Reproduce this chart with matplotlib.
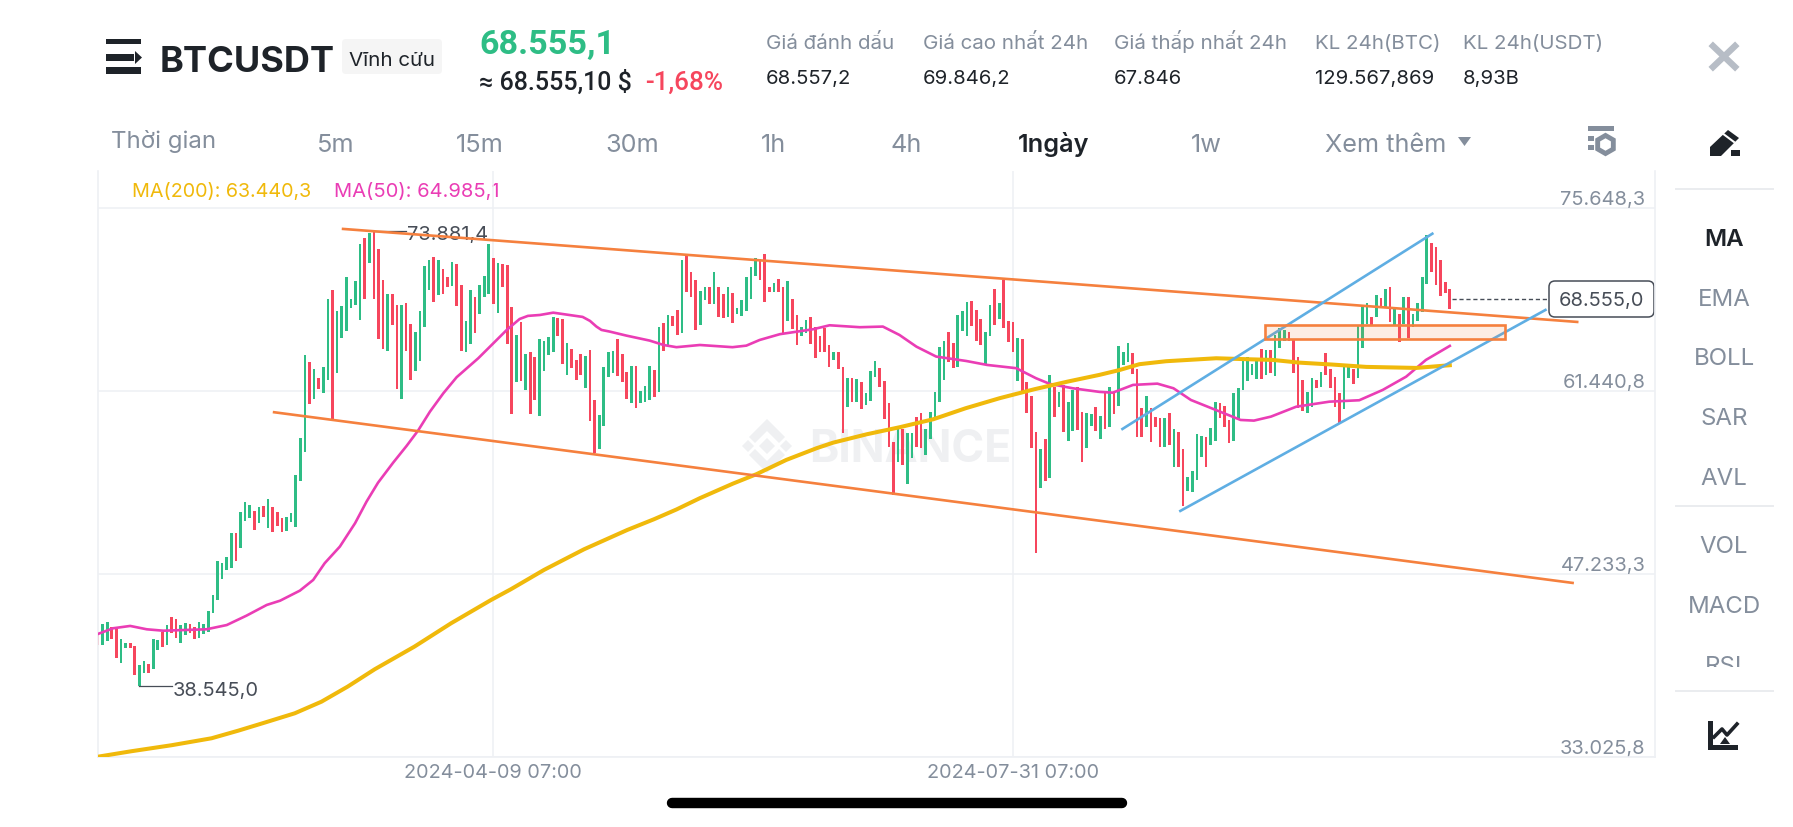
import numpy as np
import matplotlib
matplotlib.use("Agg")
from matplotlib import pyplot as plt
from matplotlib.patches import FancyBboxPatch, Polygon, Rectangle

plt.rcParams['font.family'] = ['Inter', 'Noto Sans', 'DejaVu Sans']

# daily candles, thousands of USDT
opens = [
    42.63, 41.72, 42.06, 43.15, 42.94, 40.30, 41.47, 41.85, 41.67, 38.54,
    39.53, 40.25, 39.84, 41.34, 42.76, 41.75, 43.87, 43.72, 41.85, 42.50,
    43.35, 43.10, 42.24, 42.58, 42.76, 44.23, 45.22, 46.82, 47.55, 47.68,
    50.39, 49.23, 51.35, 51.56, 52.13, 51.17, 52.52, 50.78, 52.41, 52.08,
    51.56, 50.60, 51.30, 50.91, 54.46, 56.73, 63.72, 60.82, 62.48, 61.31,
    62.30, 69.28, 62.82, 65.58, 66.08, 67.89, 68.15, 66.98, 73.30, 71.35,
    73.88, 72.44, 70.03, 64.52, 68.97, 68.12, 60.80, 68.25, 66.64, 63.00,
    63.80, 66.39, 69.28, 71.82, 68.92, 70.91, 70.32, 69.59, 71.30, 69.67,
    64.45, 65.09, 68.77, 67.42, 68.77, 68.97, 71.77, 67.52, 71.30, 71.25,
    67.94, 62.12, 66.80, 61.52, 64.45, 64.06, 59.53, 63.02, 64.21, 64.47,
    67.08, 67.03, 62.71, 64.73, 63.85, 64.29, 61.67, 64.62, 60.74, 56.91,
    58.75, 62.50, 62.81, 65.45, 64.31, 62.94, 60.48, 63.38, 60.48, 60.59,
    60.74, 63.07, 61.34, 66.75, 65.01, 67.26, 67.70, 65.97, 71.95, 70.65,
    70.06, 66.57, 68.51, 69.54, 68.20, 69.54, 68.95, 67.16, 69.02, 67.42,
    67.26, 67.65, 68.56, 70.37, 71.66, 72.08, 69.54, 69.13, 70.14, 69.54,
    66.90, 68.56, 67.34, 65.71, 65.92, 67.21, 66.44, 65.71, 66.31, 65.01,
    63.85, 64.44, 63.30, 60.23, 62.42, 60.61, 62.17, 60.35, 60.69, 62.50,
    63.25, 62.24, 60.48, 57.48, 55.96, 58.47, 54.22, 56.21, 59.40, 59.71,
    56.47, 57.69, 59.19, 60.59, 62.30, 66.05, 65.14, 63.28, 66.10, 65.71,
    68.43, 67.73, 67.03, 63.51, 65.71, 69.33, 67.00, 70.06, 66.90, 66.77,
    62.24, 65.50, 62.11, 61.05, 58.23, 53.89, 57.69, 54.66, 61.73, 60.17,
    61.91, 57.59, 58.37, 61.78, 59.79, 57.05, 58.75, 60.18, 57.72, 61.26,
    58.68, 61.39, 60.31, 63.46, 63.72, 64.37, 63.13, 60.15, 58.62, 60.10,
    59.40, 59.37, 57.07, 59.71, 55.52, 58.29, 56.94, 53.71, 53.63, 54.54,
    56.35, 57.90, 57.25, 57.59, 60.51, 60.31, 59.19, 57.59, 59.27, 61.52,
    62.25, 62.69, 62.35, 64.68, 62.69, 64.63, 62.61, 64.76, 65.35, 66.05,
    65.46, 64.06, 62.30, 59.76, 60.23, 62.30, 61.78, 64.42, 63.15, 62.50,
    61.26, 60.05, 62.48, 63.15, 62.43, 64.76, 66.65, 67.22, 67.16, 68.64,
    67.86, 69.49, 66.57, 67.40, 66.62, 68.72, 66.39, 66.91, 67.60, 69.72,
    72.91, 72.65, 71.61, 69.88, 69.34,
]
closes = [
    41.72, 43.35, 43.54, 42.19, 40.69, 42.16, 41.85, 41.52, 39.40, 40.15,
    40.51, 39.53, 42.19, 42.11, 41.60, 43.28, 42.63, 42.24, 43.28, 43.46,
    42.63, 42.16, 43.54, 43.33, 44.34, 45.58, 48.22, 48.12, 48.53, 50.39,
    48.27, 52.08, 52.80, 52.59, 50.65, 52.41, 51.69, 53.03, 50.52, 50.96,
    50.50, 51.69, 52.00, 54.92, 57.80, 64.24, 60.43, 63.15, 61.60, 63.28,
    68.56, 59.19, 67.65, 68.04, 70.27, 68.56, 69.96, 72.83, 68.56, 73.68,
    68.56, 65.51, 64.70, 68.97, 66.57, 61.57, 68.09, 64.52, 62.27, 66.00,
    67.65, 71.17, 71.61, 68.33, 71.61, 68.97, 69.54, 71.43, 68.07, 64.57,
    66.90, 69.28, 65.92, 69.65, 70.35, 72.86, 68.17, 71.35, 69.54, 65.09,
    59.63, 65.79, 62.25, 64.32, 59.63, 60.74, 65.45, 65.35, 65.66, 67.16,
    65.71, 63.57, 65.19, 63.25, 62.30, 62.66, 64.16, 59.14, 56.60, 59.58,
    63.28, 64.49, 64.57, 62.61, 62.17, 60.79, 63.38, 60.10, 61.44, 61.80,
    63.38, 60.95, 66.38, 64.55, 67.34, 66.49, 65.79, 71.61, 69.13, 68.71,
    66.18, 69.20, 69.54, 68.20, 70.68, 67.21, 67.08, 69.49, 66.69, 67.86,
    68.51, 70.32, 71.09, 71.74, 70.06, 68.38, 69.15, 69.80, 69.15, 65.97,
    69.98, 66.23, 65.01, 66.44, 66.95, 65.06, 63.98, 64.49, 64.49, 63.33,
    64.49, 63.12, 58.21, 62.42, 60.61, 62.37, 60.02, 61.26, 63.02, 63.80,
    61.78, 59.24, 57.12, 53.37, 58.47, 55.67, 58.21, 58.21, 57.07, 56.99,
    58.47, 59.79, 61.39, 64.83, 65.35, 63.72, 63.20, 67.32, 67.65, 68.32,
    66.51, 65.35, 65.01, 66.05, 68.12, 66.57, 68.25, 66.36, 65.22, 64.44,
    65.58, 61.34, 59.76, 57.04, 48.89, 56.94, 54.48, 62.68, 59.45, 61.39,
    58.24, 60.62, 61.52, 58.42, 55.96, 59.71, 59.63, 58.37, 59.53, 58.50,
    61.73, 59.63, 64.94, 64.45, 65.15, 62.74, 57.90, 57.85, 61.08, 57.51,
    58.68, 57.12, 59.37, 57.25, 58.47, 55.57, 52.52, 54.79, 55.26, 58.11,
    57.98, 55.52, 58.55, 60.57, 59.32, 58.62, 57.43, 61.26, 61.70, 63.98,
    64.11, 63.54, 63.80, 62.35, 64.63, 62.87, 65.79, 66.31, 66.18, 65.35,
    62.82, 60.10, 59.92, 61.39, 62.43, 61.65, 62.89, 62.69, 61.65, 60.23,
    58.94, 63.33, 63.28, 61.99, 66.52, 67.94, 68.30, 66.57, 68.90, 67.94,
    69.36, 66.83, 67.78, 65.22, 68.77, 65.53, 67.42, 68.25, 70.27, 73.56,
    70.71, 69.67, 68.82, 69.03, 67.81,
]

ma200_days = [0, 7.2, 16, 24.7, 30.5, 36.2, 42.8, 48.6, 54.3, 60.2, 68.8, 76.8, 85.5, 89.8,
              97, 105.7, 115.1, 120.9, 125.8, 130.9, 138.1, 143.2, 149.7, 156.3, 159.9,
              167.2, 174.4, 181.7, 188.7, 196.1, 203.7, 210.9, 217.8, 222.2, 226.5, 232.3,
              243.2, 250.5, 255.5, 261.3, 268.5, 275.8, 286.7, 294]
ma200 = [33.05, 33.47, 33.94, 34.48, 35.07, 35.69, 36.42, 37.32, 38.49, 39.84, 41.59, 43.41,
         45.22, 46.05, 47.55, 49.15, 50.65, 51.48, 52.24, 53.12, 54.25, 54.98, 56.09, 57.00,
         57.43, 58.08, 58.63, 59.25, 60.10, 60.88, 61.58, 62.17, 62.69, 63.07, 63.52, 63.75,
         63.98, 63.90, 63.85, 63.64, 63.49, 63.31, 63.23, 63.44]

ma50_days = [0, 3.3, 7, 10.6, 14.2, 23.6, 28, 32.3, 36.7, 39.6, 43.9, 46.8, 49.3, 52.6, 55.9,
             58.4, 60.9, 64.2, 67.1, 69.6, 72.2, 75.1, 78, 82.7, 86, 88.9, 91.7, 93.5, 96.1,
             99, 105.4, 107, 108.4, 109.5, 111.3, 114.9, 120, 123, 125.8, 130.9, 138, 141,
             143.9, 148.3, 155.5, 159.1, 165.7, 170.7, 174.3, 178, 182.3, 188.8, 193.4,
             199.7, 204, 207, 212, 217.8, 220.7, 225.1, 230.4, 233.9, 237.7, 243.5, 248.5,
             251.4, 255.1, 260.6, 267.8, 274.3, 279.4, 284.5, 288.8, 294]
ma50 = [42.58, 43.02, 43.20, 42.94, 42.83, 42.94, 43.27, 44.00, 44.83, 45.16, 45.94, 46.77,
        48.07, 49.36, 51.17, 52.85, 54.32, 55.88, 57.17, 58.36, 59.84, 61.26, 62.51, 63.98,
        65.15, 66.18, 67.03, 67.27, 67.34, 67.52, 67.19, 66.88, 66.44, 66.18, 66.05, 65.74,
        65.35, 65.01, 64.84, 65.01, 64.84, 64.96, 65.40, 65.85, 66.23, 66.54, 66.39, 66.44,
        65.79, 64.88, 64.11, 63.77, 63.46, 63.21, 62.43, 61.99, 61.65, 61.37, 61.31, 61.91,
        62.01, 61.65, 60.74, 59.91, 59.19, 59.14, 59.45, 60.22, 60.61, 60.72, 61.52, 62.55,
        63.85, 64.94]

# drawn trend lines: day positions and prices at both ends
top_line = ([53.3, 321.7], [74.02, 66.80])
low_line = ([38.3, 320.7], [59.79, 46.54])
channel_up = ([222.8, 290.2], [58.49, 73.65])
channel_low = ([235.4, 314.8], [52.13, 67.73])
zone_days = [253.7, 306.1]
zone_prices = [65.50, 66.54]

price_ticks = [75.6483, 61.4408, 47.2333, 33.0258]
price_labels = ['75.648,3', '61.440,8', '47.233,3', '33.025,8']
date_ticks = [86, 199]
date_labels = ['2024-04-09 07:00', '2024-07-31 07:00']

stat_names = ['Giá đánh dấu', 'Giá cao nhất 24h', 'Giá thấp nhất 24h', 'KL 24h(BTC)', 'KL 24h(USDT)']
stat_values = ['68.557,2', '69.846,2', '67.846', '129.567,869', '8,93B']
tabs = ['5m', '15m', '30m', '1h', '4h', '1ngày', '1w']
side_items = ['MA', 'EMA', 'BOLL', 'SAR', 'AVL', 'VOL', 'MACD', 'RSI']

GREEN = '#2EBD85'
RED = '#F6465D'
ORANGE = '#F5803E'
BLUE = '#5FAEE3'
GOLD = '#F0B90B'
PINK = '#EA3DB5'
DARK = '#1E2329'
GREY = '#848E9C'
GRID = '#EEF0F4'

W, H = 1793, 828
fig = plt.figure(figsize=(W / 100, H / 100), dpi=100, facecolor='white')

# page furniture in pixel coordinates
ui = fig.add_axes([0, 0, 1, 1], zorder=0)
ui.set_xlim(0, W)
ui.set_ylim(H, 0)
ui.axis('off')

for y0, y1, x1 in [(40, 45, 141), (55, 62, 134), (68, 75, 141)]:
    ui.add_patch(Rectangle((106, y0), x1 - 106, y1 - y0, color=DARK, lw=0))
ui.add_patch(Polygon([(135, 52), (142, 58.5), (135, 65)], color=DARK, lw=0))
ui.text(160, 72, 'BTCUSDT', fontsize=26, fontweight='bold', color=DARK)
ui.add_patch(FancyBboxPatch((345, 43), 94, 29, boxstyle='round,pad=3,rounding_size=4',
                            fc='#F5F5F5', ec='none'))
ui.text(392, 66, 'Vĩnh cửu', fontsize=14.8, color=DARK, ha='center')

ui.text(479, 53.5, '68.555,1', fontsize=24.6, fontweight='bold', color=GREEN, family='Roboto')
ui.text(479, 90, '≈ 68.555,10 $', fontsize=18, fontweight='medium', color=DARK, family='Roboto')
ui.text(645, 90, '-1,68%', fontsize=18.8, fontweight='medium', color=RED, family='Roboto')

for x, name, value in zip([766, 923, 1114, 1315, 1463], stat_names, stat_values):
    ui.text(x, 49, name, fontsize=14.8, color=GREY)
    ui.text(x, 84, value, fontsize=14.6, color=DARK)

ui.text(111, 148, 'Thời gian', fontsize=17.3, color=GREY)
for x, tab in zip([336, 480, 632, 774, 906, 1054, 1206], tabs):
    active = tab == '1ngày'
    ui.text(x, 152, tab, fontsize=18.2, color=DARK if active else GREY,
            fontweight='semibold' if active else 'normal', ha='center')
ui.text(1325, 152, 'Xem thêm', fontsize=18.2, color=GREY)
ui.add_patch(Polygon([(1458, 138), (1471, 138), (1464.5, 147)], color=GREY, lw=0))

# indicator settings icon
ui.add_patch(Rectangle((1588, 127), 26, 5, color=GREY, lw=0))
ui.add_patch(Rectangle((1588, 137), 6, 5, color=GREY, lw=0))
ui.add_patch(Rectangle((1588, 146), 6, 5, color=GREY, lw=0))
ui.plot([1604.5], [144.5], 'h', ms=13, mfc='white', mec=GREY, mew=3.5)

# close, pen, side panel
ui.plot([1713, 1735], [47, 68], color='#B7BDC6', lw=4.6)
ui.plot([1713, 1735], [68, 47], color='#B7BDC6', lw=4.6)
ui.add_patch(Polygon([(1710, 157), (1710, 148), (1728, 131), (1739, 139), (1721, 157)], color=DARK, lw=0))
ui.plot([1722, 1734], [134, 143], color='white', lw=1.5)
ui.add_patch(Rectangle((1731, 151), 8.5, 6, color=DARK, lw=0))

for y in [190, 507, 692]:
    ui.plot([1676, 1773], [y, y], color='#EAECEF', lw=1.4)
for y, item in zip([246, 306, 365, 425, 485, 553, 613, 673], side_items):
    txt = ui.text(1724, y, item, fontsize=17.3, color=DARK if item == 'MA' else GREY,
                  fontweight='semibold' if item == 'MA' else 'normal', ha='center')
    if item == 'RSI':
        # the list is scrolled, this one is cut off at the bottom
        txt.set_clip_on(True)
        txt.set_clip_path(Rectangle((1660, 640), 130, 28, transform=ui.transData))

ui.add_patch(Rectangle((1708, 722), 5, 29, color=DARK, lw=0))
ui.add_patch(Rectangle((1708, 746), 30, 5, color=DARK, lw=0))
ui.plot([1714, 1722, 1727, 1737], [738, 730, 736, 725], color=DARK, lw=2.6)
ui.add_patch(Polygon([(1720, 745), (1725, 738), (1730, 745)], color=DARK, lw=0))

# watermark sits behind the chart
WM = '#EFF0F2'
for cx, cy, r in [(767, 447, 8), (748, 447, 6), (786, 447, 6)]:
    ui.add_patch(Polygon([(cx - r, cy), (cx, cy - r), (cx + r, cy), (cx, cy + r)], color=WM, lw=0))
ui.add_patch(Polygon([(767, 420), (785, 438), (779, 444), (767, 432), (755, 444), (749, 438)], color=WM, lw=0))
ui.add_patch(Polygon([(767, 474), (785, 456), (779, 450), (767, 462), (755, 450), (749, 456)], color=WM, lw=0))
ui.text(910, 462, 'BINANCE', fontsize=32, fontweight='bold', color=WM, ha='center')

ui.text(132, 197, 'MA(200): 63.440,3', fontsize=14.2, color=GOLD)
ui.text(334, 197, 'MA(50): 64.985,1', fontsize=14.5, color=PINK)

ui.add_patch(FancyBboxPatch((1552, 285), 99, 30, boxstyle='round,pad=3,rounding_size=6',
                            fc='white', ec='#474D57', lw=1.1))
ui.text(1601, 306, '68.555,0', fontsize=14.4, color='#474D57', ha='center')

ui.plot([672, 1122], [804, 804], color='black', lw=7.5, solid_capstyle='round')

# price chart
ax = fig.add_axes([98 / W, 1 - 758 / H, (1655 - 98) / W, (758 - 172) / H], zorder=1)
ax.patch.set_alpha(0)
ax.set_xlim(0, (1655 - 98) / 4.598)
ax.set_ylim(33.0258, 33.0258 + (758 - 172) * 0.07763)

ax.spines['top'].set_visible(False)
for name in ['left', 'right', 'bottom']:
    ax.spines[name].set_color(GRID)
    ax.spines[name].set_linewidth(1.2)
ax.grid(True, color=GRID, lw=1.1)
ax.set_axisbelow(True)

ax.set_xticks(date_ticks, date_labels)
ax.set_yticks(price_ticks, price_labels)
ax.yaxis.tick_right()
ax.tick_params(axis='x', length=0, pad=4, labelsize=14.3, labelcolor=GREY)
ax.tick_params(axis='y', length=0, pad=-7, labelsize=14.4, labelcolor=GREY)
for label in ax.get_yticklabels():
    label.set_ha('right')
    label.set_va('bottom')

days = np.arange(len(opens))
opens = np.array(opens)
closes = np.array(closes)
colors = [GREEN if c >= o else RED for o, c in zip(opens, closes)]
ax.bar(days, closes - opens, bottom=opens, width=0.58, color=colors, lw=0, zorder=2)

ax.plot(ma50_days, ma50, color=PINK, lw=1.9, zorder=3)
ax.plot(ma200_days, ma200, color=GOLD, lw=2.9, zorder=3)

for line in [top_line, low_line]:
    ax.plot(line[0], line[1], color=ORANGE, lw=1.9, zorder=4)
for line in [channel_up, channel_low]:
    ax.plot(line[0], line[1], color=BLUE, lw=1.9, zorder=4)
ax.add_patch(Rectangle((zone_days[0], zone_prices[0]), zone_days[1] - zone_days[0],
                       zone_prices[1] - zone_prices[0], fc=ORANGE, alpha=0.14, lw=0, zorder=4))
ax.add_patch(Rectangle((zone_days[0], zone_prices[0]), zone_days[1] - zone_days[0],
                       zone_prices[1] - zone_prices[0], fc='none', ec=ORANGE, lw=1.9, zorder=4))

# high, low and last price marks
ax.plot([60, 67], [73.88, 73.88], color='#474D57', lw=0.9, zorder=3)
ax.text(67.2, 73.2, '73.881,4', fontsize=14.4, color='#474D57', zorder=3)
ax.plot([9, 16], [38.545, 38.545], color='#474D57', lw=0.9, zorder=3)
ax.text(16.3, 37.85, '38.545,0', fontsize=14.4, color='#474D57', zorder=3)
ax.plot([294.4, 315.2], [68.555, 68.555], color='#474D57', lw=1, ls=(0, (3, 2)), zorder=3)

fig.savefig('out.png', dpi=100)
